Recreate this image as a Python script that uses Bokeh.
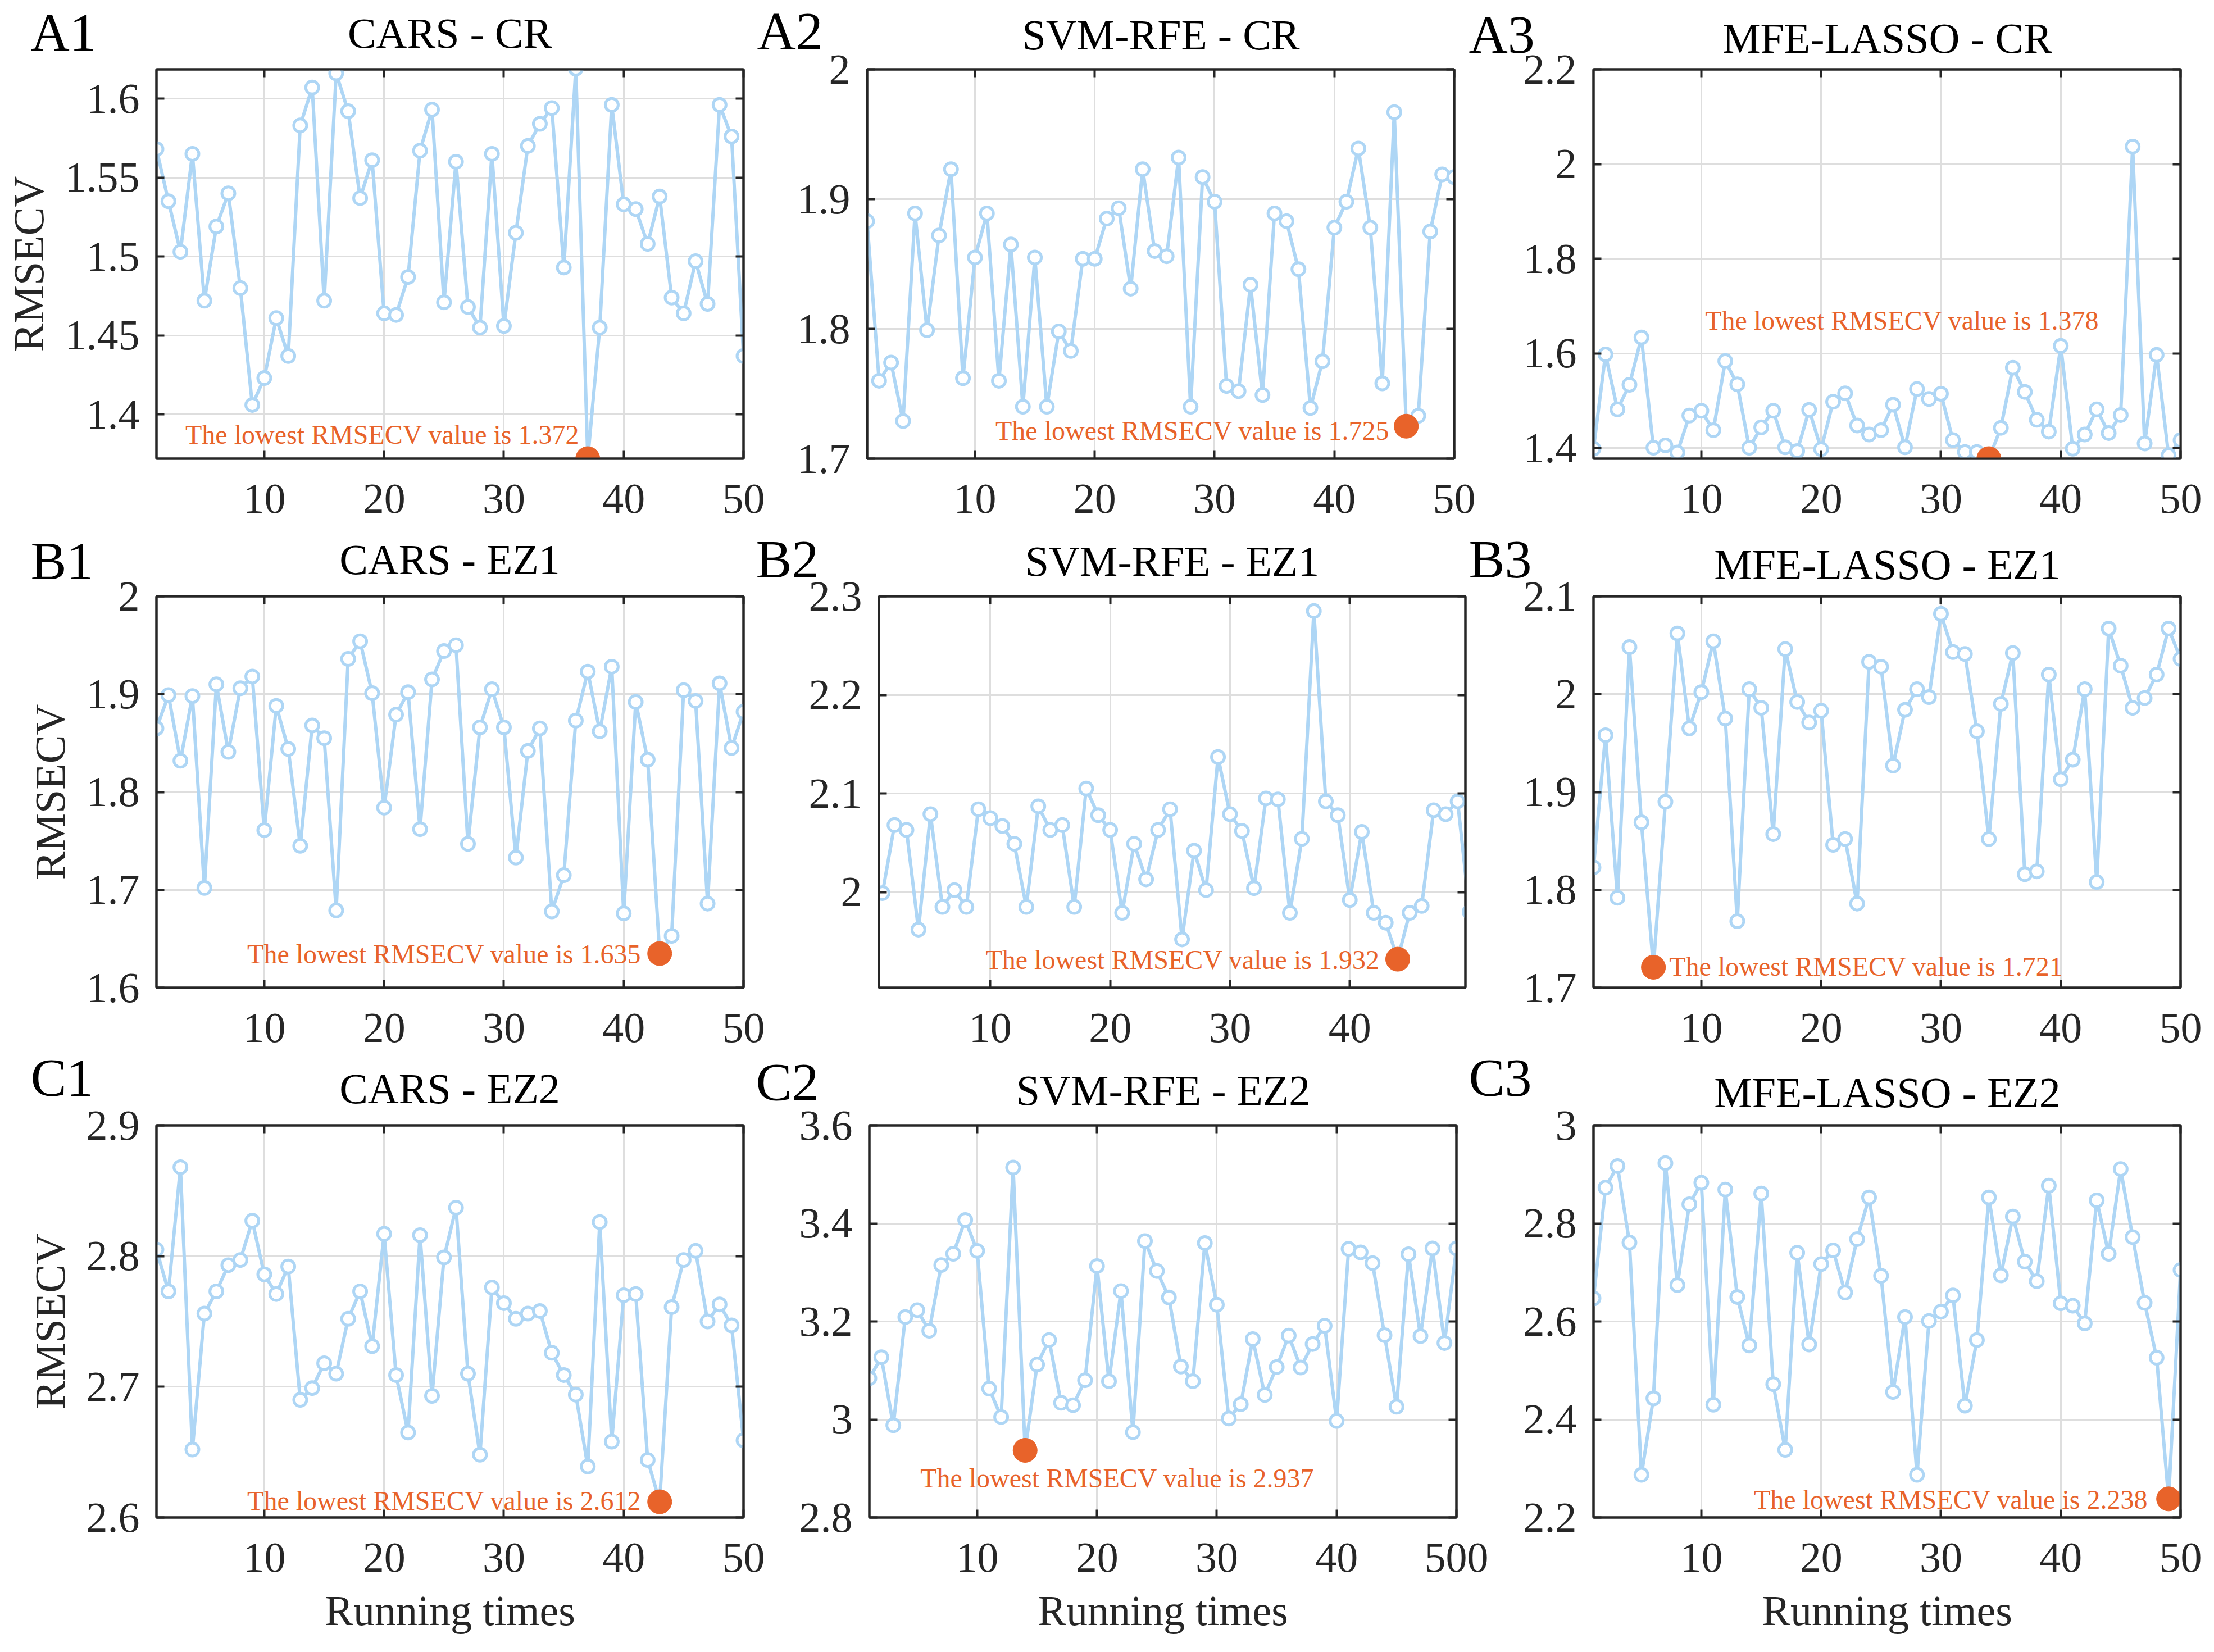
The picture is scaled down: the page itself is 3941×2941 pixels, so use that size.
from bokeh.plotting import figure
from bokeh.models import Range1d, FixedTicker, LinearAxis, Label, CustomJSTickFormatter
from bokeh.layouts import column, row
from bokeh.core.properties import value
from bokeh.embed import file_html
from bokeh.resources import INLINE

FONT = "Liberation Serif"
BLUE = "#AED6F5"
ORANGE = "#E8632A"
DARK = "#262626"
MID = 0.3375  # baseline -> middle of the text box, in em

runs = list(range(1, 51))

cars_cr = [1.568, 1.535, 1.503, 1.565, 1.472, 1.519, 1.540, 1.480, 1.406, 1.423,
           1.461, 1.437, 1.583, 1.607, 1.472, 1.616, 1.592, 1.537, 1.561, 1.464,
           1.463, 1.487, 1.567, 1.593, 1.471, 1.560, 1.468, 1.455, 1.565, 1.456,
           1.515, 1.570, 1.584, 1.594, 1.493, 1.619, 1.372, 1.455, 1.596, 1.533,
           1.530, 1.508, 1.538, 1.474, 1.464, 1.497, 1.470, 1.596, 1.576, 1.437]
svm_cr = [1.883, 1.760, 1.774, 1.729, 1.889, 1.799, 1.872, 1.923, 1.762, 1.855,
          1.889, 1.760, 1.865, 1.740, 1.855, 1.740, 1.798, 1.783, 1.854, 1.854,
          1.885, 1.893, 1.831, 1.923, 1.860, 1.856, 1.932, 1.740, 1.917, 1.898,
          1.756, 1.752, 1.834, 1.749, 1.889, 1.883, 1.846, 1.739, 1.775, 1.878,
          1.898, 1.939, 1.878, 1.758, 1.967, 1.725, 1.733, 1.875, 1.919, 1.917]
mfe_cr = [1.399, 1.598, 1.482, 1.534, 1.634, 1.401, 1.406, 1.391, 1.469, 1.479,
          1.438, 1.584, 1.535, 1.401, 1.444, 1.479, 1.402, 1.394, 1.481, 1.398,
          1.498, 1.516, 1.448, 1.429, 1.438, 1.492, 1.402, 1.525, 1.504, 1.515,
          1.417, 1.392, 1.392, 1.378, 1.443, 1.570, 1.519, 1.460, 1.435, 1.616,
          1.399, 1.429, 1.482, 1.432, 1.470, 2.037, 1.410, 1.597, 1.385, 1.417]
cars_ez1 = [1.865, 1.899, 1.832, 1.898, 1.702, 1.910, 1.841, 1.906, 1.918, 1.761,
            1.888, 1.844, 1.745, 1.868, 1.855, 1.679, 1.936, 1.954, 1.901, 1.784,
            1.879, 1.902, 1.762, 1.915, 1.944, 1.950, 1.747, 1.866, 1.905, 1.866,
            1.733, 1.842, 1.865, 1.678, 1.715, 1.873, 1.923, 1.862, 1.928, 1.676,
            1.892, 1.833, 1.635, 1.653, 1.904, 1.893, 1.686, 1.911, 1.845, 1.882]
svm_ez1 = [1.999, 2.068, 2.063, 1.962, 2.079, 1.985, 2.002, 1.985, 2.084, 2.075,
           2.067, 2.049, 1.985, 2.087, 2.063, 2.068, 1.985, 2.105, 2.078, 2.063,
           1.979, 2.049, 2.013, 2.063, 2.084, 1.952, 2.042, 2.002, 2.137, 2.079,
           2.062, 2.004, 2.095, 2.094, 1.979, 2.054, 2.285, 2.092, 2.078, 1.992,
           2.061, 1.979, 1.969, 1.932, 1.979, 1.986, 2.083, 2.079, 2.092, 1.980]
mfe_ez1 = [1.823, 1.958, 1.792, 2.048, 1.869, 1.721, 1.890, 2.062, 1.965, 2.002,
           2.054, 1.975, 1.768, 2.005, 1.986, 1.857, 2.046, 1.992, 1.971, 1.983,
           1.846, 1.852, 1.786, 2.033, 2.028, 1.927, 1.984, 2.005, 1.997, 2.082,
           2.043, 2.041, 1.962, 1.852, 1.990, 2.042, 1.816, 1.819, 2.020, 1.913,
           1.933, 2.005, 1.808, 2.067, 2.029, 1.986, 1.996, 2.020, 2.067, 2.036]
cars_ez2 = [2.805, 2.773, 2.868, 2.652, 2.756, 2.773, 2.793, 2.797, 2.827, 2.786,
            2.771, 2.792, 2.690, 2.699, 2.718, 2.710, 2.752, 2.773, 2.731, 2.817,
            2.709, 2.665, 2.816, 2.693, 2.799, 2.837, 2.710, 2.648, 2.776, 2.764,
            2.752, 2.756, 2.758, 2.726, 2.709, 2.694, 2.639, 2.826, 2.658, 2.770,
            2.771, 2.644, 2.612, 2.761, 2.797, 2.804, 2.750, 2.763, 2.747, 2.659]
svm_ez2 = [3.084, 3.127, 2.988, 3.209, 3.223, 3.181, 3.315, 3.338, 3.407, 3.344,
           3.063, 3.005, 3.514, 2.937, 3.112, 3.162, 3.034, 3.029, 3.080, 3.313,
           3.078, 3.262, 2.974, 3.364, 3.303, 3.249, 3.108, 3.078, 3.360, 3.234,
           3.002, 3.031, 3.164, 3.050, 3.107, 3.171, 3.106, 3.154, 3.191, 2.997,
           3.348, 3.341, 3.319, 3.172, 3.026, 3.337, 3.170, 3.349, 3.156, 3.349]
mfe_ez2 = [2.647, 2.873, 2.917, 2.761, 2.287, 2.443, 2.923, 2.674, 2.839, 2.883,
           2.430, 2.869, 2.650, 2.551, 2.861, 2.472, 2.338, 2.740, 2.553, 2.717,
           2.745, 2.659, 2.768, 2.853, 2.693, 2.456, 2.609, 2.287, 2.601, 2.620,
           2.653, 2.428, 2.562, 2.853, 2.694, 2.814, 2.722, 2.682, 2.877, 2.637,
           2.632, 2.596, 2.847, 2.738, 2.911, 2.772, 2.638, 2.526, 2.238, 2.705]

x_ticks = [10, 20, 30, 40, 50]

row_tags = [["A1", "A2", "A3"], ["B1", "B2", "B3"], ["C1", "C2", "C3"]]
row_titles = [["CARS - CR", "SVM-RFE - CR", "MFE-LASSO - CR"],
              ["CARS - EZ1", "SVM-RFE - EZ1", "MFE-LASSO - EZ1"],
              ["CARS - EZ2", "SVM-RFE - EZ2", "MFE-LASSO - EZ2"]]

# header strips: (top, height, overlap with the strip above), tag anchors (x, baseline), title anchors
HEADERS = [
    ((0, 125, 0), [(54, 89), (1347, 87), (2614, 93)], [(800, 84), (2066, 87), (3359, 93)]),
    ((930, 130, 30), [(54, 1030), (1345, 1027), (2614, 1027)], [(800, 1021), (2086, 1024), (3359, 1030)]),
    ((1860, 140, 40), [(54, 1950), (1345, 1958), (2614, 1950)], [(800, 1963), (2070, 1966), (3359, 1970)]),
]
ROW_OVERLAP = [60, 60, 55]

FMT = "var v = Math.round(tick*1000)/1000; return String(v);"


def header(top, height, overlap, tags, tag_xy, titles, title_xy):
    h = figure(width=3941, height=height, output_backend="svg", toolbar_location=None,
               x_range=Range1d(0, 3941), y_range=Range1d(top + height, top),
               x_axis_location=None, y_axis_location=None, min_border=0,
               margin=(-overlap, 0, 0, 0))
    h.outline_line_color = None
    h.xgrid.visible = False
    h.ygrid.visible = False
    h.background_fill_color = None
    h.border_fill_color = None
    h.text(x=[p[0] for p in tag_xy], y=[p[1] - MID * 96 for p in tag_xy], text=tags,
           text_font=value(FONT), text_font_size="96px", text_color="black",
           text_align="left", text_baseline="middle")
    h.text(x=[p[0] for p in title_xy], y=[p[1] - MID * 76 for p in title_xy], text=titles,
           text_font=value(FONT), text_font_size="76px", text_color="black",
           text_align="center", text_baseline="middle")
    return h


def panel(vals, xr, yr, yticks, note, cell, borders, ylabel=None, xlabel=None, xoverride=None):
    cw, ch = cell
    l, r, t, b = borders
    fh = ch - t - b
    p = figure(width=cw, height=ch, output_backend="svg", toolbar_location=None,
               x_range=Range1d(*xr), y_range=Range1d(*yr),
               min_border_left=l, min_border_right=r, min_border_top=t, min_border_bottom=b)
    p.background_fill_color = "white"
    p.border_fill_color = None
    p.outline_line_color = DARK
    p.outline_line_width = 4
    p.outline_line_alpha = 1.0

    xt = FixedTicker(ticks=x_ticks)
    yt = FixedTicker(ticks=yticks)
    p.xaxis.ticker = xt
    p.yaxis.ticker = yt
    p.xgrid.ticker = xt
    p.ygrid.ticker = yt
    p.grid.grid_line_color = "#DEDEDE"
    p.grid.grid_line_width = 3

    for ax in (p.xaxis[0], p.yaxis[0]):
        ax.formatter = CustomJSTickFormatter(code=FMT)
        ax.major_tick_in = 14
        ax.major_tick_out = 0
        ax.minor_tick_line_color = None
        ax.major_tick_line_color = DARK
        ax.major_tick_line_width = 4
        ax.axis_line_color = DARK
        ax.axis_line_width = 4
        ax.major_label_text_font = FONT
        ax.major_label_text_font_size = "76px"
        ax.major_label_text_color = DARK
        ax.axis_label_text_font = FONT
        ax.axis_label_text_font_size = "76px"
        ax.axis_label_text_font_style = "normal"
        ax.axis_label_text_color = DARK
    p.xaxis.major_label_standoff = 46
    p.yaxis.major_label_standoff = 30
    if xoverride:
        p.xaxis.major_label_overrides = xoverride
    if ylabel:
        p.yaxis.axis_label = ylabel
        p.yaxis.axis_label_standoff = 20
    if xlabel:
        p.xaxis.axis_label = xlabel
        p.xaxis.axis_label_standoff = 24

    for loc, tk in (("right", yt), ("above", xt)):
        ax = LinearAxis(ticker=tk, formatter=CustomJSTickFormatter(code="return '';"),
                        major_tick_in=14, major_tick_out=0, major_label_standoff=0,
                        major_label_text_font_size="1px", minor_tick_line_color=None,
                        major_tick_line_color=DARK, major_tick_line_width=4,
                        axis_line_color=DARK, axis_line_width=4)
        p.add_layout(ax, loc)

    p.line(runs, vals, line_color=BLUE, line_width=6)
    p.scatter(runs, vals, marker="circle", size=23, line_color=BLUE, line_width=5,
              fill_color="white")
    vmin = min(vals)
    imin = runs[vals.index(vmin)]
    p.scatter([imin], [vmin], marker="circle", size=43, fill_color=ORANGE, line_color=ORANGE)

    nx, ny, nalign = note
    dy = MID * 48 * (yr[1] - yr[0]) / fh
    p.add_layout(Label(x=nx, y=ny + dy, text=f"The lowest RMSECV value is {vmin:.3f}",
                       text_font=FONT, text_font_size="48px", text_color=ORANGE,
                       text_align=nalign, text_baseline="middle"))
    return p


a1 = panel(cars_cr, (1, 50), (1.372, 1.6185), [1.4, 1.45, 1.5, 1.55, 1.6],
           (36.3, 1.3817, "right"), (1370, 895), (278, 47, 51, 144), ylabel="RMSECV")
a2 = panel(svm_cr, (1, 50), (1.7, 2.0), [1.7, 1.8, 1.9, 2.0],
           (44.6, 1.7146, "right"), (1270, 895), (173, 52, 55, 139))
a3 = panel(mfe_cr, (1, 50), (1.378, 2.2), [1.4, 1.6, 1.8, 2.0, 2.2],
           (43.2, 1.6506, "right"), (1301, 895), (196, 60, 58, 135))

b1 = panel(cars_ez1, (1, 50), (1.6, 2.0), [1.6, 1.7, 1.8, 1.9, 2.0],
           (41.46, 1.625, "right"), (1370, 900), (278, 47, 52, 142), ylabel="RMSECV")
b2 = panel(svm_ez1, (0.7, 49.65), (1.903, 2.3), [2.0, 2.1, 2.2, 2.3],
           (42.49, 1.9224, "right"), (1270, 900), (194, 32, 60, 137))
b3 = panel(mfe_ez1, (1, 50), (1.7, 2.1), [1.7, 1.8, 1.9, 2.0, 2.1],
           (7.32, 1.7127, "left"), (1301, 900), (196, 60, 61, 134))

c1 = panel(cars_ez2, (1, 50), (2.6, 2.9), [2.6, 2.7, 2.8, 2.9],
           (41.46, 2.6061, "right"), (1370, 996), (278, 47, 50, 240),
           ylabel="RMSECV", xlabel="Running times")
c2 = panel(svm_ez2, (1, 50), (2.8, 3.6), [2.8, 3.0, 3.2, 3.4, 3.6],
           (5.25, 2.8614, "left"), (1300, 996), (177, 78, 55, 236),
           xlabel="Running times", xoverride={50: "500"})
c3 = panel(mfe_ez2, (1, 50), (2.2, 3.0), [2.2, 2.4, 2.6, 2.8, 3.0],
           (47.27, 2.218, "right"), (1271, 996), (166, 60, 58, 232),
           xlabel="Running times")

heads = [header(hd[0][0], hd[0][1], hd[0][2], row_tags[i], hd[1], row_titles[i], hd[2])
         for i, hd in enumerate(HEADERS)]

r1 = row(a1, a2, a3, spacing=0, margin=(-ROW_OVERLAP[0], 0, 0, 0))
r2 = row(b1, b2, b3, spacing=0, margin=(-ROW_OVERLAP[1], 0, 0, 0))
r3 = row(c1, c2, c3, spacing=0, margin=(-ROW_OVERLAP[2], 0, 0, 0))

layout = column(heads[0], r1, heads[1], r2, heads[2], r3, spacing=0)

open("out.html", "w").write(file_html(layout, INLINE))
